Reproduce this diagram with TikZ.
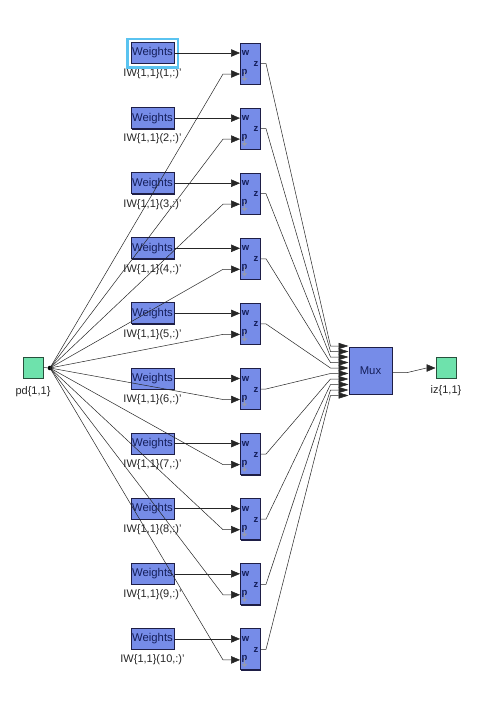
\documentclass[tikz,border=0pt]{standalone}
\usepackage{fontspec}
\setmainfont{Liberation Sans}
\usetikzlibrary{arrows.meta,calc,shadows}
\definecolor{blkfill}{RGB}{118,140,232}
\definecolor{blkdraw}{RGB}{30,30,70}
\definecolor{blktext}{RGB}{20,30,90}
\definecolor{portfill}{RGB}{110,226,172}
\definecolor{portdraw}{RGB}{40,80,60}
\definecolor{hilite}{RGB}{90,195,240}
\definecolor{pgray}{RGB}{150,155,175}
\begin{document}
\begin{tikzpicture}[x=1pt,y=-1pt,
  blk/.style={rectangle, draw=blkdraw, fill=blkfill, line width=1pt, inner sep=0pt, text=blktext, font=\fontsize{11.3}{12}\selectfont,
    drop shadow={shadow xshift=0.9pt, shadow yshift=-0.9pt, fill=blkdraw, opacity=1}},
  wblk/.style={blk, minimum width=43pt, minimum height=21pt},
  dpblk/.style={blk, minimum width=20pt, minimum height=41pt},
  portbox/.style={rectangle, draw=portdraw, fill=portfill, line width=1pt, minimum width=20pt, minimum height=21pt, inner sep=0pt,
    drop shadow={shadow xshift=0.8pt, shadow yshift=-0.8pt, fill=portdraw, opacity=1}},
  lbl/.style={font=\fontsize{11}{12}\selectfont, text=black!85, inner sep=0pt},
  plbl/.style={font=\fontsize{9.5}{10}\selectfont\bfseries, text=blktext, inner sep=0pt},
  conn/.style={draw=black!85, line width=0.5pt},
  tip/.style={-{Triangle[length=9pt,width=7.5pt]}},
  muxtip/.style={-{Triangle[length=10pt,width=6.2pt]}},
]
\fill[white] (0,0) rectangle (496,720);
\useasboundingbox (0,0) rectangle (496,720);

% source and sink
\node[portbox] (pd) at (33,367.5) {};
\node[lbl] (pdl) at (33,392) {pd\{1,1\}};
\coordinate (br) at (50,368);
\node[portbox] (iz) at (446,368) {};
\node[lbl] (izl) at (446,391) {iz\{1,1\}};
\node[blk, minimum width=43pt, minimum height=47pt] (mux) at (370.5,370.5) {Mux};

% rows
\foreach \k in {1,...,10}{
  \pgfmathsetmacro{\yw}{53+65.1*(\k-1)}
  \pgfmathsetmacro{\yd}{\yw+10.5}
  \node[wblk] (w\k) at (152.5,\yw) {Weights};
  \node[lbl] (l\k) at (152.5,\yw+21) {IW\{1,1\}(\k,:)'};
  \node[dpblk] (d\k) at (250.5,\yd) {};
  \node[plbl] (dw\k) at (245.5,\yw) {w};
  \node[plbl] (dz\k) at (256,\yd+0.5) {z};
  \node[plbl] (dp\k) at (244.5,\yw+20) {p};
  \draw[pgray, line width=1.1pt, -{Triangle[length=3pt,width=5.5pt]}] (244.5,\yw+19) -- (244.5,\yw+28);
}

% highlight on first weights block
\draw[hilite, line width=2.5pt] ([xshift=-3pt,yshift=3pt]w1.north west) rectangle ([xshift=3.5pt,yshift=-3.5pt]w1.south east);

% connectors
\draw[conn] (pd.east) -- (br);
\fill (br) circle (2.3pt);
\foreach \k in {1,...,10}{
  \pgfmathsetmacro{\ms}{24.5-5.5*(\k-1)}
  \draw[conn,tip] (w\k.east) -- ([yshift=10.5pt]d\k.west);
  \draw[conn,tip] (br) -- ([xshift=-17pt,yshift=-10.5pt]d\k.west) -- ([yshift=-10.5pt]d\k.west);
  \draw[conn,muxtip] (d\k.east) -- ([xshift=5pt]d\k.east) -- ([xshift=-18pt,yshift=\ms pt]mux.west) -- ([yshift=\ms pt]mux.west);
}
\draw[conn,tip] ([yshift=-2pt]mux.east) -- ([xshift=15pt,yshift=-2pt]mux.east) -- ([xshift=-9pt]iz.west) -- (iz.west);
\end{tikzpicture}
\end{document}
